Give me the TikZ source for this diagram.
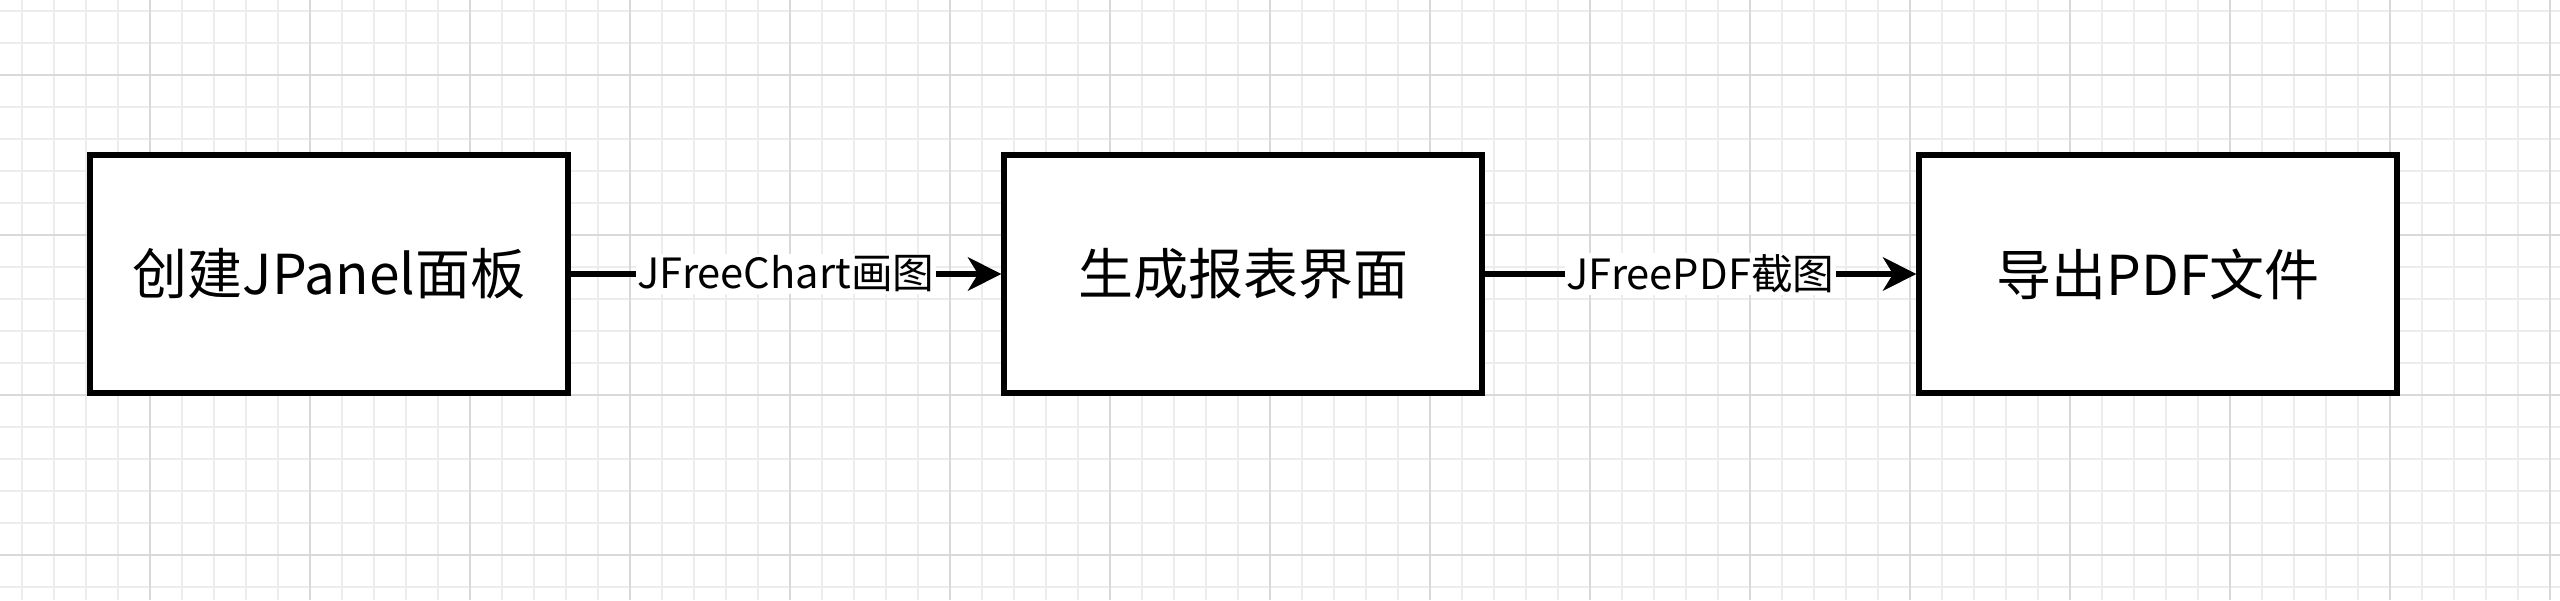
\documentclass[tikz,border=0pt]{standalone}
\usepackage{fontspec}
\setmainfont{Noto Sans CJK SC}
\usetikzlibrary{arrows.meta}
\begin{document}
\begin{tikzpicture}[x=0.3pt,y=-0.3pt,
  box/.style={draw,line width=1.6pt,fill=white,minimum width=143.4pt,minimum height=71.4pt,inner sep=0pt,font=\fontsize{16.5}{19}\selectfont},
  conn/.style={line width=1.8pt,-{Stealth[length=10pt,width=10pt,inset=3pt]}},
  lbl/.style={fill=white,inner sep=0.5pt,font=\fontsize{12.5}{14}\selectfont}]
\useasboundingbox (0,0) rectangle (2560,600);
\fill[white] (0,0) rectangle (2560,600);
\foreach \x in {-10,22,...,2560} \draw[black!7,line width=0.4pt] (\x,0) -- (\x,600);
\foreach \y in {11,43,...,600} \draw[black!7,line width=0.4pt] (0,\y) -- (2560,\y);
\foreach \x in {-10,150,...,2560} \draw[black!15,line width=0.5pt] (\x,0) -- (\x,600);
\foreach \y in {75,235,...,600} \draw[black!15,line width=0.5pt] (0,\y) -- (2560,\y);
\node[box] (a) at (329,274) {创建JPanel面板};
\node[box] (b) at (1243,274) {生成报表界面};
\node[box] (c) at (2158,274) {导出PDF文件};
\draw[conn] (a) -- node[lbl]{JFreeChart画图} (b);
\draw[conn] (b) -- node[lbl]{JFreePDF截图} (c);
\end{tikzpicture}
\end{document}
